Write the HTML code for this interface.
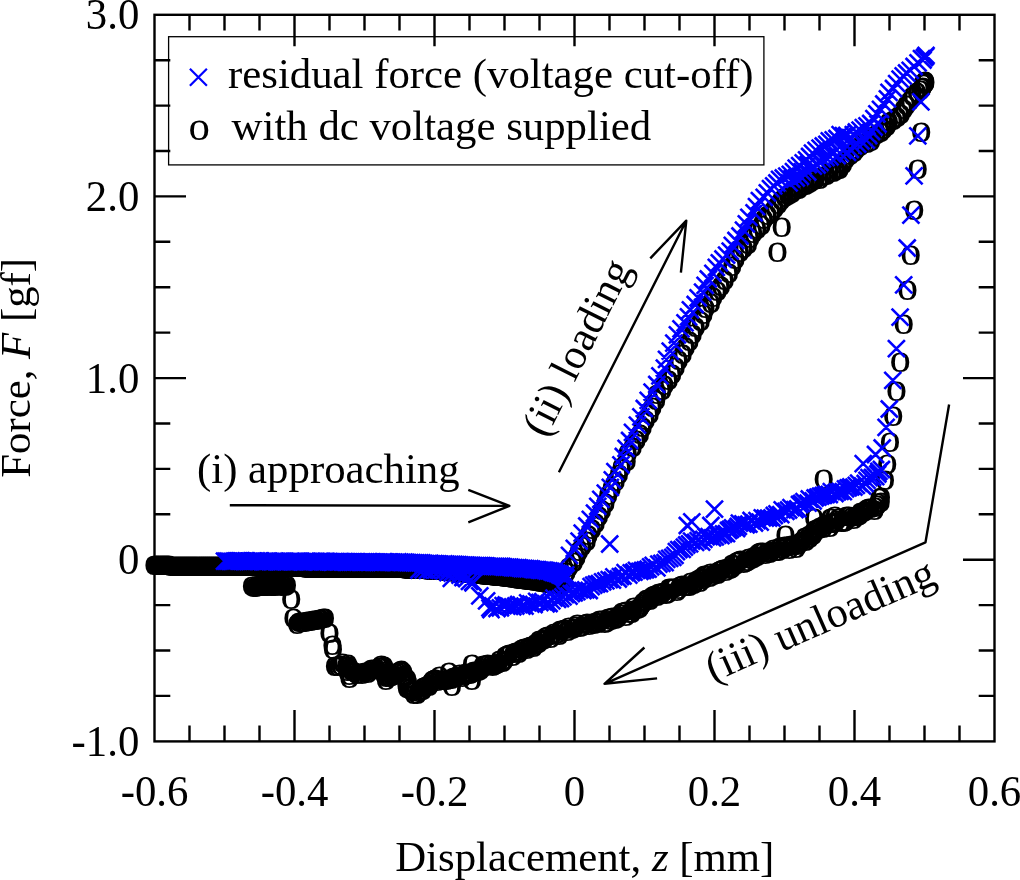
<!DOCTYPE html>
<html><head><meta charset="utf-8"><style>
html,body{margin:0;padding:0;background:#fff;}
svg{display:block;}
text{font-family:"Liberation Serif","Times New Roman",serif;font-size:42.8px;fill:#000;}
g.o text{text-anchor:middle;}
</style></head><body>
<svg width="1020" height="880" viewBox="0 0 1020 880">
<rect x="154.5" y="14.8" width="840.0" height="726.6" fill="none" stroke="#000" stroke-width="2.4"/>
<path d="M189.5 741.4v-15.8M189.5 14.8v15.8M224.5 741.4v-15.8M224.5 14.8v15.8M259.5 741.4v-15.8M259.5 14.8v15.8M294.5 741.4v-31.5M294.5 14.8v31.5M329.5 741.4v-15.8M329.5 14.8v15.8M364.5 741.4v-15.8M364.5 14.8v15.8M399.5 741.4v-15.8M399.5 14.8v15.8M434.5 741.4v-31.5M434.5 14.8v31.5M469.5 741.4v-15.8M469.5 14.8v15.8M504.5 741.4v-15.8M504.5 14.8v15.8M539.5 741.4v-15.8M539.5 14.8v15.8M574.5 741.4v-31.5M574.5 14.8v31.5M609.5 741.4v-15.8M609.5 14.8v15.8M644.5 741.4v-15.8M644.5 14.8v15.8M679.5 741.4v-15.8M679.5 14.8v15.8M714.5 741.4v-31.5M714.5 14.8v31.5M749.5 741.4v-15.8M749.5 14.8v15.8M784.5 741.4v-15.8M784.5 14.8v15.8M819.5 741.4v-15.8M819.5 14.8v15.8M854.5 741.4v-31.5M854.5 14.8v31.5M889.5 741.4v-15.8M889.5 14.8v15.8M924.5 741.4v-15.8M924.5 14.8v15.8M959.5 741.4v-15.8M959.5 14.8v15.8M154.5 695.9h15.8M994.5 695.9h-15.8M154.5 650.5h15.8M994.5 650.5h-15.8M154.5 605.1h15.8M994.5 605.1h-15.8M154.5 559.7h31.5M994.5 559.7h-31.5M154.5 514.3h15.8M994.5 514.3h-15.8M154.5 468.9h15.8M994.5 468.9h-15.8M154.5 423.5h15.8M994.5 423.5h-15.8M154.5 378.1h31.5M994.5 378.1h-31.5M154.5 332.6h15.8M994.5 332.6h-15.8M154.5 287.2h15.8M994.5 287.2h-15.8M154.5 241.8h15.8M994.5 241.8h-15.8M154.5 196.4h31.5M994.5 196.4h-31.5M154.5 151.0h15.8M994.5 151.0h-15.8M154.5 105.6h15.8M994.5 105.6h-15.8M154.5 60.2h15.8M994.5 60.2h-15.8" stroke="#000" stroke-width="2.4" fill="none"/>
<rect x="168.6" y="36.7" width="595.3" height="128.2" fill="none" stroke="#000" stroke-width="1.3"/>
<text transform="translate(154.5 806.3) scale(1 1.04)" text-anchor="middle">-0.6</text>
<text transform="translate(294.5 806.3) scale(1 1.04)" text-anchor="middle">-0.4</text>
<text transform="translate(434.5 806.3) scale(1 1.04)" text-anchor="middle">-0.2</text>
<text transform="translate(574.5 806.3) scale(1 1.04)" text-anchor="middle">0</text>
<text transform="translate(714.5 806.3) scale(1 1.04)" text-anchor="middle">0.2</text>
<text transform="translate(854.5 806.3) scale(1 1.04)" text-anchor="middle">0.4</text>
<text transform="translate(994.5 806.3) scale(1 1.04)" text-anchor="middle">0.6</text>
<text transform="translate(139.3 29.1) scale(1 1.04)" text-anchor="end">3.0</text>
<text transform="translate(139.3 210.8) scale(1 1.04)" text-anchor="end">2.0</text>
<text transform="translate(139.3 392.5) scale(1 1.04)" text-anchor="end">1.0</text>
<text transform="translate(139.3 574.1) scale(1 1.04)" text-anchor="end">0</text>
<text transform="translate(139.3 755.8) scale(1 1.04)" text-anchor="end">-1.0</text>
<text x="395.2" y="871.2">Displacement, <tspan font-style="italic">z</tspan> [mm]</text>
<text transform="translate(30 477.8) rotate(-90)">Force, <tspan font-style="italic">F</tspan> [gf]</text>
<text x="228" y="87.6">residual force (voltage cut-off)</text>
<text x="231.6" y="140.2">with dc voltage supplied</text>
<text x="197" y="483">(i) approaching</text>
<text transform="translate(546 439) rotate(-63.2)">(ii) loading</text>
<text transform="translate(713 682.4) rotate(-23.8)">(iii) unloading</text>
<path d="M229.8 505.2L509.4 505.9M468.3 489.8L509.4 505.9L468.3 522.4" fill="none" stroke="#000" stroke-width="2.4" stroke-linejoin="round"/>
<path d="M558.9 472.3L686.3 220.7M650.3 258.3L686.3 220.7L680.9 272.6" fill="none" stroke="#000" stroke-width="2.4" stroke-linejoin="round"/>
<path d="M949.1 404.5L925.5 542.3L604.5 683.8M644.4 647.5L604.5 683.8L657.1 678.4" fill="none" stroke="#000" stroke-width="2.4" stroke-linejoin="round"/>
<g class="o"><text x="154.5" y="575.4">o</text><text x="156.5" y="575.4">o</text><text x="158.5" y="575.4">o</text><text x="160.6" y="575.4">o</text><text x="162.6" y="575.4">o</text><text x="164.6" y="575.4">o</text><text x="166.6" y="575.4">o</text><text x="168.6" y="575.4">o</text><text x="170.6" y="575.5">o</text><text x="172.7" y="575.5">o</text><text x="174.7" y="575.5">o</text><text x="176.7" y="575.5">o</text><text x="178.7" y="575.5">o</text><text x="180.7" y="575.5">o</text><text x="182.7" y="575.5">o</text><text x="184.8" y="575.5">o</text><text x="186.8" y="575.5">o</text><text x="188.8" y="575.5">o</text><text x="190.8" y="575.5">o</text><text x="192.8" y="575.5">o</text><text x="194.8" y="575.5">o</text><text x="196.8" y="575.5">o</text><text x="198.9" y="575.5">o</text><text x="200.9" y="575.6">o</text><text x="202.9" y="575.6">o</text><text x="204.9" y="575.6">o</text><text x="206.9" y="575.6">o</text><text x="208.9" y="575.6">o</text><text x="211.0" y="575.6">o</text><text x="213.0" y="575.6">o</text><text x="215.0" y="575.6">o</text><text x="217.0" y="575.6">o</text><text x="219.0" y="575.7">o</text><text x="220.9" y="575.7">o</text><text x="222.9" y="575.8">o</text><text x="224.9" y="575.8">o</text><text x="226.9" y="575.9">o</text><text x="228.8" y="575.9">o</text><text x="230.8" y="575.9">o</text><text x="232.8" y="576.0">o</text><text x="234.8" y="576.0">o</text><text x="236.7" y="576.1">o</text><text x="238.7" y="576.1">o</text><text x="240.7" y="576.1">o</text><text x="242.7" y="576.2">o</text><text x="244.7" y="576.2">o</text><text x="246.6" y="576.3">o</text><text x="248.6" y="576.3">o</text><text x="250.6" y="576.4">o</text><text x="252.6" y="576.4">o</text><text x="254.5" y="576.4">o</text><text x="256.5" y="576.5">o</text><text x="258.5" y="576.5">o</text><text x="260.5" y="576.6">o</text><text x="262.4" y="576.6">o</text><text x="264.4" y="576.6">o</text><text x="266.4" y="576.7">o</text><text x="268.4" y="576.7">o</text><text x="270.3" y="576.8">o</text><text x="272.3" y="576.8">o</text><text x="274.3" y="576.9">o</text><text x="276.3" y="576.9">o</text><text x="278.3" y="576.9">o</text><text x="280.2" y="577.0">o</text><text x="282.2" y="577.0">o</text><text x="284.2" y="577.1">o</text><text x="286.2" y="577.1">o</text><text x="288.1" y="577.1">o</text><text x="290.1" y="577.2">o</text><text x="292.1" y="577.2">o</text><text x="294.1" y="577.3">o</text><text x="296.0" y="577.3">o</text><text x="298.0" y="577.4">o</text><text x="300.0" y="577.4">o</text><text x="302.0" y="577.4">o</text><text x="304.0" y="577.4">o</text><text x="306.0" y="577.5">o</text><text x="308.0" y="577.5">o</text><text x="310.0" y="577.5">o</text><text x="312.0" y="577.5">o</text><text x="314.0" y="577.5">o</text><text x="316.0" y="577.6">o</text><text x="318.0" y="577.6">o</text><text x="320.0" y="577.6">o</text><text x="322.0" y="577.6">o</text><text x="324.0" y="577.6">o</text><text x="326.0" y="577.6">o</text><text x="328.0" y="577.7">o</text><text x="330.0" y="577.7">o</text><text x="332.0" y="577.7">o</text><text x="334.0" y="577.7">o</text><text x="336.0" y="577.7">o</text><text x="338.0" y="577.8">o</text><text x="340.0" y="577.8">o</text><text x="342.0" y="577.8">o</text><text x="344.0" y="577.8">o</text><text x="346.0" y="577.8">o</text><text x="348.0" y="577.9">o</text><text x="350.0" y="577.9">o</text><text x="352.0" y="577.9">o</text><text x="354.0" y="577.9">o</text><text x="356.0" y="577.9">o</text><text x="358.0" y="578.0">o</text><text x="360.0" y="578.0">o</text><text x="362.0" y="578.0">o</text><text x="364.0" y="578.0">o</text><text x="366.0" y="578.0">o</text><text x="368.0" y="578.1">o</text><text x="370.0" y="578.1">o</text><text x="372.0" y="578.1">o</text><text x="374.0" y="578.1">o</text><text x="376.0" y="578.1">o</text><text x="378.0" y="578.1">o</text><text x="380.0" y="578.2">o</text><text x="382.0" y="578.2">o</text><text x="384.0" y="578.2">o</text><text x="386.0" y="578.2">o</text><text x="388.0" y="578.2">o</text><text x="390.0" y="578.3">o</text><text x="392.0" y="578.3">o</text><text x="394.0" y="578.3">o</text><text x="396.0" y="578.3">o</text><text x="398.0" y="578.3">o</text><text x="400.0" y="578.4">o</text><text x="402.0" y="578.4">o</text><text x="404.0" y="578.4">o</text><text x="406.0" y="578.5">o</text><text x="408.0" y="578.6">o</text><text x="410.0" y="578.7">o</text><text x="412.0" y="578.8">o</text><text x="414.0" y="578.9">o</text><text x="416.0" y="579.0">o</text><text x="418.0" y="579.1">o</text><text x="420.0" y="579.2">o</text><text x="422.0" y="579.2">o</text><text x="424.0" y="579.3">o</text><text x="426.0" y="579.4">o</text><text x="428.0" y="579.5">o</text><text x="430.0" y="579.6">o</text><text x="432.0" y="579.7">o</text><text x="434.0" y="579.8">o</text><text x="436.0" y="579.9">o</text><text x="438.0" y="580.0">o</text><text x="440.0" y="580.1">o</text><text x="442.0" y="580.3">o</text><text x="444.0" y="580.5">o</text><text x="446.0" y="580.7">o</text><text x="448.0" y="580.9">o</text><text x="450.0" y="581.1">o</text><text x="452.0" y="581.3">o</text><text x="454.0" y="581.5">o</text><text x="456.0" y="581.7">o</text><text x="458.0" y="581.9">o</text><text x="460.0" y="582.1">o</text><text x="462.0" y="582.3">o</text><text x="464.0" y="582.5">o</text><text x="466.0" y="582.7">o</text><text x="468.0" y="582.9">o</text><text x="470.0" y="583.1">o</text><text x="472.0" y="583.3">o</text><text x="474.0" y="583.5">o</text><text x="476.0" y="583.7">o</text><text x="478.0" y="583.9">o</text><text x="480.0" y="584.1">o</text><text x="482.0" y="584.3">o</text><text x="484.0" y="584.5">o</text><text x="486.0" y="584.7">o</text><text x="488.0" y="584.9">o</text><text x="490.0" y="585.1">o</text><text x="492.0" y="585.3">o</text><text x="494.0" y="585.5">o</text><text x="496.0" y="585.7">o</text><text x="498.0" y="585.9">o</text><text x="500.0" y="586.1">o</text><text x="502.0" y="586.4">o</text><text x="504.0" y="586.6">o</text><text x="506.0" y="586.9">o</text><text x="508.0" y="587.2">o</text><text x="510.0" y="587.4">o</text><text x="512.0" y="587.7">o</text><text x="514.0" y="588.0">o</text><text x="516.0" y="588.2">o</text><text x="518.0" y="588.5">o</text><text x="520.0" y="588.8">o</text><text x="522.0" y="589.0">o</text><text x="524.0" y="589.3">o</text><text x="526.0" y="589.6">o</text><text x="528.0" y="589.8">o</text><text x="530.0" y="590.1">o</text><text x="532.0" y="590.4">o</text><text x="534.0" y="590.7">o</text><text x="536.0" y="591.0">o</text><text x="538.0" y="591.3">o</text><text x="540.0" y="591.6">o</text><text x="542.0" y="591.9">o</text><text x="544.0" y="592.2">o</text><text x="546.0" y="592.5">o</text><text x="548.0" y="592.8">o</text><text x="550.0" y="593.1">o</text><text x="552.0" y="593.3">o</text><text x="554.0" y="593.4">o</text><text x="556.0" y="593.6">o</text><text x="558.0" y="593.8">o</text><text x="560.0" y="593.9">o</text><text x="562.0" y="594.1">o</text><text x="252.0" y="596.2">o</text><text x="254.0" y="596.9">o</text><text x="255.9" y="596.7">o</text><text x="257.8" y="596.1">o</text><text x="259.8" y="596.3">o</text><text x="261.7" y="596.1">o</text><text x="263.7" y="596.3">o</text><text x="265.6" y="596.3">o</text><text x="267.5" y="595.5">o</text><text x="269.5" y="595.4">o</text><text x="271.5" y="596.1">o</text><text x="273.4" y="595.6">o</text><text x="275.3" y="595.9">o</text><text x="277.3" y="595.0">o</text><text x="279.2" y="595.4">o</text><text x="281.2" y="595.6">o</text><text x="283.1" y="595.0">o</text><text x="285.1" y="595.6">o</text><text x="287.0" y="595.1">o</text><text x="291.2" y="608.9">o</text><text x="293.5" y="627.7">o</text><text x="297.1" y="633.5">o</text><text x="298.9" y="632.3">o</text><text x="300.9" y="631.9">o</text><text x="303.0" y="632.1">o</text><text x="305.1" y="632.1">o</text><text x="307.0" y="631.2">o</text><text x="309.0" y="630.7">o</text><text x="311.0" y="630.5">o</text><text x="312.9" y="629.8">o</text><text x="315.0" y="629.6">o</text><text x="317.0" y="629.5">o</text><text x="319.0" y="629.2">o</text><text x="321.0" y="628.6">o</text><text x="323.0" y="628.2">o</text><text x="325.0" y="628.1">o</text><text x="329.4" y="642.5">o</text><text x="332.4" y="654.8">o</text><text x="333.0" y="658.9">o</text><text x="335.0" y="676.0">o</text><text x="337.8" y="676.2">o</text><text x="340.2" y="674.9">o</text><text x="342.5" y="673.2">o</text><text x="346.0" y="675.6">o</text><text x="348.0" y="673.6">o</text><text x="347.9" y="676.0">o</text><text x="350.0" y="678.2">o</text><text x="347.1" y="681.0">o</text><text x="349.5" y="684.5">o</text><text x="351.8" y="681.4">o</text><text x="354.4" y="682.1">o</text><text x="357.0" y="683.5">o</text><text x="359.5" y="683.3">o</text><text x="362.1" y="684.0">o</text><text x="364.5" y="681.8">o</text><text x="367.6" y="683.1">o</text><text x="369.7" y="681.3">o</text><text x="371.4" y="678.8">o</text><text x="374.3" y="678.7">o</text><text x="377.2" y="678.5">o</text><text x="379.5" y="677.2">o</text><text x="381.2" y="674.8">o</text><text x="381.8" y="677.1">o</text><text x="384.8" y="678.3">o</text><text x="385.0" y="680.8">o</text><text x="384.0" y="683.9">o</text><text x="386.3" y="685.4">o</text><text x="386.4" y="686.5">o</text><text x="389.3" y="686.7">o</text><text x="391.8" y="686.1">o</text><text x="393.9" y="684.8">o</text><text x="395.6" y="682.6">o</text><text x="397.9" y="681.6">o</text><text x="400.2" y="680.7">o</text><text x="401.3" y="679.8">o</text><text x="403.1" y="682.1">o</text><text x="404.3" y="684.5">o</text><text x="404.7" y="687.1">o</text><text x="407.3" y="689.2">o</text><text x="408.0" y="691.7">o</text><text x="406.4" y="695.3">o</text><text x="406.9" y="697.8">o</text><text x="409.5" y="698.7">o</text><text x="411.5" y="700.1">o</text><text x="413.7" y="701.4">o</text><text x="414.0" y="704.1">o</text><text x="417.1" y="704.4">o</text><text x="418.6" y="702.3">o</text><text x="420.1" y="700.2">o</text><text x="422.8" y="700.0">o</text><text x="423.4" y="696.5">o</text><text x="426.0" y="696.1">o</text><text x="428.9" y="696.1">o</text><text x="429.8" y="693.5">o</text><text x="431.3" y="691.7">o</text><text x="432.6" y="689.6">o</text><text x="435.0" y="688.9">o</text><text x="349.4" y="687.7">o</text><text x="384.0" y="676.1">o</text><text x="386.0" y="690.1">o</text><text x="435.0" y="689.1">o</text><text x="437.5" y="691.0">o</text><text x="439.5" y="686.2">o</text><text x="442.1" y="689.9">o</text><text x="444.4" y="690.0">o</text><text x="446.8" y="690.2">o</text><text x="449.2" y="689.3">o</text><text x="451.5" y="689.2">o</text><text x="453.4" y="687.4">o</text><text x="455.7" y="687.2">o</text><text x="457.7" y="686.1">o</text><text x="459.5" y="683.9">o</text><text x="462.4" y="687.4">o</text><text x="464.1" y="685.4">o</text><text x="465.6" y="683.1">o</text><text x="468.0" y="684.1">o</text><text x="470.0" y="683.5">o</text><text x="471.7" y="682.5">o</text><text x="473.7" y="681.4">o</text><text x="476.1" y="681.3">o</text><text x="478.3" y="680.7">o</text><text x="480.3" y="679.6">o</text><text x="481.9" y="677.9">o</text><text x="482.9" y="675.0">o</text><text x="485.4" y="674.9">o</text><text x="487.5" y="673.6">o</text><text x="490.1" y="674.8">o</text><text x="492.6" y="675.5">o</text><text x="494.5" y="674.5">o</text><text x="496.5" y="673.8">o</text><text x="498.5" y="673.3">o</text><text x="499.5" y="670.0">o</text><text x="502.8" y="671.6">o</text><text x="504.4" y="669.9">o</text><text x="505.1" y="666.2">o</text><text x="506.9" y="664.9">o</text><text x="509.0" y="663.9">o</text><text x="512.6" y="666.4">o</text><text x="513.7" y="663.1">o</text><text x="515.5" y="661.6">o</text><text x="518.6" y="663.1">o</text><text x="520.2" y="660.9">o</text><text x="521.8" y="658.7">o</text><text x="524.0" y="658.2">o</text><text x="526.9" y="659.0">o</text><text x="528.2" y="656.5">o</text><text x="530.4" y="656.1">o</text><text x="533.4" y="656.9">o</text><text x="534.7" y="654.7">o</text><text x="536.3" y="653.0">o</text><text x="538.5" y="652.6">o</text><text x="539.3" y="649.5">o</text><text x="542.1" y="650.0">o</text><text x="544.1" y="649.1">o</text><text x="545.4" y="647.0">o</text><text x="547.1" y="645.5">o</text><text x="550.6" y="648.0">o</text><text x="552.2" y="645.4">o</text><text x="553.9" y="643.3">o</text><text x="556.7" y="644.4">o</text><text x="559.2" y="644.7">o</text><text x="560.1" y="640.2">o</text><text x="562.0" y="639.5">o</text><text x="564.4" y="639.1">o</text><text x="567.7" y="640.8">o</text><text x="568.7" y="637.3">o</text><text x="571.9" y="638.8">o</text><text x="574.0" y="637.8">o</text><text x="575.8" y="636.2">o</text><text x="577.3" y="633.8">o</text><text x="580.1" y="636.5">o</text><text x="582.4" y="635.5">o</text><text x="584.7" y="634.1">o</text><text x="587.0" y="632.6">o</text><text x="589.3" y="634.6">o</text><text x="591.7" y="633.3">o</text><text x="594.1" y="634.2">o</text><text x="595.8" y="632.3">o</text><text x="598.3" y="633.1">o</text><text x="599.5" y="629.8">o</text><text x="602.0" y="630.3">o</text><text x="605.0" y="632.8">o</text><text x="607.0" y="631.7">o</text><text x="608.2" y="628.3">o</text><text x="611.1" y="630.3">o</text><text x="612.3" y="627.1">o</text><text x="615.3" y="629.4">o</text><text x="617.1" y="627.9">o</text><text x="618.7" y="625.6">o</text><text x="620.5" y="624.2">o</text><text x="622.2" y="622.4">o</text><text x="626.0" y="625.7">o</text><text x="625.7" y="621.0">o</text><text x="629.6" y="623.2">o</text><text x="631.8" y="622.7">o</text><text x="632.7" y="619.9">o</text><text x="633.6" y="617.1">o</text><text x="637.2" y="619.0">o</text><text x="639.4" y="618.3">o</text><text x="640.6" y="616.0">o</text><text x="642.0" y="614.1">o</text><text x="643.5" y="612.4">o</text><text x="645.3" y="611.1">o</text><text x="646.8" y="609.4">o</text><text x="649.9" y="610.3">o</text><text x="651.2" y="608.2">o</text><text x="652.5" y="606.0">o</text><text x="654.1" y="604.5">o</text><text x="657.3" y="605.9">o</text><text x="658.8" y="603.4">o</text><text x="661.2" y="603.6">o</text><text x="663.1" y="602.0">o</text><text x="666.1" y="603.8">o</text><text x="668.3" y="603.2">o</text><text x="668.9" y="598.2">o</text><text x="671.3" y="598.3">o</text><text x="673.6" y="598.2">o</text><text x="676.9" y="600.5">o</text><text x="678.7" y="598.8">o</text><text x="680.0" y="595.9">o</text><text x="681.9" y="594.6">o</text><text x="684.8" y="596.0">o</text><text x="687.2" y="596.0">o</text><text x="689.5" y="595.7">o</text><text x="690.6" y="592.1">o</text><text x="693.7" y="593.9">o</text><text x="695.4" y="592.1">o</text><text x="697.0" y="590.4">o</text><text x="699.9" y="591.8">o</text><text x="700.5" y="587.5">o</text><text x="703.4" y="589.0">o</text><text x="704.2" y="585.2">o</text><text x="706.4" y="584.7">o</text><text x="709.8" y="587.3">o</text><text x="710.4" y="583.3">o</text><text x="713.5" y="585.0">o</text><text x="715.2" y="583.4">o</text><text x="717.7" y="583.7">o</text><text x="718.7" y="580.7">o</text><text x="720.7" y="579.7">o</text><text x="722.6" y="578.6">o</text><text x="725.7" y="580.5">o</text><text x="727.2" y="578.4">o</text><text x="729.9" y="579.2">o</text><text x="731.7" y="578.1">o</text><text x="732.3" y="573.8">o</text><text x="735.1" y="574.8">o</text><text x="736.2" y="571.9">o</text><text x="738.1" y="570.8">o</text><text x="740.2" y="570.1">o</text><text x="743.7" y="573.0">o</text><text x="745.6" y="571.8">o</text><text x="747.6" y="571.1">o</text><text x="748.7" y="568.0">o</text><text x="751.2" y="568.5">o</text><text x="753.5" y="568.4">o</text><text x="754.8" y="565.7">o</text><text x="757.1" y="565.8">o</text><text x="758.5" y="563.3">o</text><text x="760.2" y="561.8">o</text><text x="762.6" y="561.9">o</text><text x="765.4" y="564.0">o</text><text x="767.3" y="562.0">o</text><text x="769.8" y="563.3">o</text><text x="771.5" y="560.6">o</text><text x="773.5" y="559.3">o</text><text x="776.2" y="561.3">o</text><text x="778.4" y="561.1">o</text><text x="779.8" y="556.6">o</text><text x="782.7" y="559.4">o</text><text x="784.3" y="556.2">o</text><text x="786.5" y="555.8">o</text><text x="789.4" y="559.2">o</text><text x="790.8" y="554.6">o</text><text x="793.2" y="555.1">o</text><text x="796.1" y="558.4">o</text><text x="797.7" y="555.2">o</text><text x="798.6" y="553.8">o</text><text x="800.4" y="552.3">o</text><text x="802.3" y="550.9">o</text><text x="805.6" y="551.1">o</text><text x="804.9" y="547.2">o</text><text x="809.4" y="548.4">o</text><text x="809.1" y="544.9">o</text><text x="812.8" y="545.4">o</text><text x="813.5" y="544.0">o</text><text x="814.3" y="540.2">o</text><text x="816.2" y="539.1">o</text><text x="818.7" y="539.2">o</text><text x="820.0" y="536.6">o</text><text x="823.1" y="538.2">o</text><text x="823.9" y="534.5">o</text><text x="825.9" y="533.5">o</text><text x="829.9" y="537.0">o</text><text x="830.5" y="532.9">o</text><text x="833.1" y="533.4">o</text><text x="834.9" y="531.8">o</text><text x="836.7" y="530.2">o</text><text x="838.4" y="528.4">o</text><text x="841.6" y="531.9">o</text><text x="843.7" y="531.5">o</text><text x="845.7" y="530.9">o</text><text x="846.4" y="526.2">o</text><text x="848.6" y="526.1">o</text><text x="851.2" y="527.4">o</text><text x="853.7" y="528.5">o</text><text x="855.1" y="525.8">o</text><text x="857.4" y="525.6">o</text><text x="859.4" y="524.6">o</text><text x="860.7" y="521.9">o</text><text x="863.3" y="522.4">o</text><text x="864.9" y="520.5">o</text><text x="866.8" y="519.3">o</text><text x="868.5" y="517.7">o</text><text x="871.0" y="517.8">o</text><text x="874.4" y="520.2">o</text><text x="875.3" y="517.0">o</text><text x="877.3" y="515.3">o</text><text x="878.3" y="513.2">o</text><text x="880.8" y="511.8">o</text><text x="879.4" y="508.4">o</text><text x="881.0" y="506.5">o</text><text x="449.0" y="682.1">o</text><text x="452.0" y="696.1">o</text><text x="472.0" y="674.1">o</text><text x="472.0" y="690.1">o</text><text x="823.7" y="488.8">o</text><text x="814.1" y="528.3">o</text><text x="785.5" y="544.7">o</text><text x="834.6" y="525.6">o</text><text x="830.5" y="528.1">o</text><text x="925.5" y="92.1">o</text><text x="921.2" y="142.3">o</text><text x="917.8" y="178.8">o</text><text x="914.1" y="220.0">o</text><text x="910.6" y="264.5">o</text><text x="907.4" y="299.5">o</text><text x="903.7" y="334.1">o</text><text x="900.1" y="372.2">o</text><text x="896.4" y="400.8">o</text><text x="893.3" y="425.5">o</text><text x="890.0" y="451.8">o</text><text x="887.1" y="473.8">o</text><text x="885.0" y="490.1">o</text><text x="560.8" y="596.0">o</text><text x="566.5" y="582.4">o</text><text x="568.9" y="576.6">o</text><text x="573.7" y="572.4">o</text><text x="576.4" y="566.9">o</text><text x="579.0" y="561.2">o</text><text x="582.3" y="556.0">o</text><text x="586.7" y="551.4">o</text><text x="588.5" y="544.5">o</text><text x="592.0" y="538.5">o</text><text x="595.6" y="532.5">o</text><text x="598.9" y="526.4">o</text><text x="602.0" y="520.1">o</text><text x="605.5" y="512.7">o</text><text x="608.3" y="505.0">o</text><text x="611.7" y="497.6">o</text><text x="615.8" y="490.5">o</text><text x="618.9" y="483.6">o</text><text x="621.7" y="476.6">o</text><text x="626.6" y="470.7">o</text><text x="627.8" y="462.8">o</text><text x="632.6" y="456.8">o</text><text x="636.4" y="450.3">o</text><text x="639.9" y="443.7">o</text><text x="642.7" y="436.8">o</text><text x="645.8" y="430.0">o</text><text x="649.7" y="423.6">o</text><text x="652.5" y="416.7">o</text><text x="656.3" y="410.3">o</text><text x="657.3" y="404.1">o</text><text x="662.2" y="400.2">o</text><text x="664.5" y="394.8">o</text><text x="668.6" y="390.4">o</text><text x="672.1" y="383.7">o</text><text x="675.8" y="377.0">o</text><text x="678.7" y="370.0">o</text><text x="682.7" y="363.7">o</text><text x="685.6" y="356.8">o</text><text x="689.4" y="350.5">o</text><text x="692.6" y="343.8">o</text><text x="695.6" y="337.0">o</text><text x="700.8" y="331.3">o</text><text x="703.4" y="324.4">o</text><text x="705.5" y="317.7">o</text><text x="710.9" y="313.1">o</text><text x="713.2" y="306.6">o</text><text x="717.5" y="301.3">o</text><text x="721.0" y="295.5">o</text><text x="724.7" y="289.9">o</text><text x="728.9" y="283.2">o</text><text x="732.3" y="276.0">o</text><text x="735.4" y="268.6">o</text><text x="740.0" y="262.1">o</text><text x="743.7" y="257.6">o</text><text x="748.0" y="253.6">o</text><text x="750.3" y="248.0">o</text><text x="753.3" y="243.1">o</text><text x="757.3" y="238.8">o</text><text x="761.4" y="234.6">o</text><text x="764.0" y="229.4">o</text><text x="767.6" y="224.8">o</text><text x="771.7" y="221.8">o</text><text x="774.8" y="217.9">o</text><text x="778.3" y="214.4">o</text><text x="781.3" y="210.4">o</text><text x="784.7" y="206.6">o</text><text x="788.3" y="204.7">o</text><text x="791.7" y="202.6">o</text><text x="795.1" y="200.3">o</text><text x="798.8" y="198.6">o</text><text x="802.2" y="196.4">o</text><text x="805.7" y="194.8">o</text><text x="809.1" y="193.2">o</text><text x="812.2" y="190.7">o</text><text x="815.7" y="188.9">o</text><text x="819.7" y="188.5">o</text><text x="823.0" y="186.4">o</text><text x="826.5" y="184.8">o</text><text x="829.7" y="182.4">o</text><text x="833.3" y="181.5">o</text><text x="836.5" y="179.8">o</text><text x="839.5" y="178.5">o</text><text x="843.0" y="173.8">o</text><text x="845.8" y="168.7">o</text><text x="850.0" y="164.5">o</text><text x="853.9" y="162.3">o</text><text x="856.3" y="158.5">o</text><text x="860.0" y="156.2">o</text><text x="862.9" y="153.4">o</text><text x="866.9" y="152.5">o</text><text x="870.9" y="151.1">o</text><text x="872.8" y="146.5">o</text><text x="876.6" y="144.0">o</text><text x="880.6" y="141.9">o</text><text x="883.5" y="138.6">o</text><text x="886.7" y="135.8">o</text><text x="889.0" y="132.1">o</text><text x="893.3" y="129.7">o</text><text x="897.1" y="126.9">o</text><text x="900.8" y="123.7">o</text><text x="903.7" y="119.4">o</text><text x="906.4" y="114.8">o</text><text x="909.6" y="110.8">o</text><text x="912.8" y="105.8">o</text><text x="916.9" y="101.6">o</text><text x="921.9" y="98.1">o</text><text x="925.0" y="93.1">o</text><text x="777.5" y="262.1">o</text><text x="781.8" y="236.6">o</text><text x="924.0" y="94.1">o</text><text x="922.5" y="97.1">o</text><text x="925.0" y="90.6">o</text><text x="923.0" y="92.6">o</text><text x="920.5" y="100.1">o</text></g>
<path d="M216.0 552.6l17.0 17.0m0 -17.0l-17.0 17.0M218.0 552.6l17.0 17.0m0 -17.0l-17.0 17.0M220.0 552.7l17.0 17.0m0 -17.0l-17.0 17.0M222.0 552.8l17.0 17.0m0 -17.0l-17.0 17.0M224.0 552.8l17.0 17.0m0 -17.0l-17.0 17.0M226.0 552.6l17.0 17.0m0 -17.0l-17.0 17.0M228.0 552.4l17.0 17.0m0 -17.0l-17.0 17.0M230.0 552.5l17.0 17.0m0 -17.0l-17.0 17.0M232.0 552.4l17.0 17.0m0 -17.0l-17.0 17.0M233.9 552.7l17.0 17.0m0 -17.0l-17.0 17.0M235.9 552.8l17.0 17.0m0 -17.0l-17.0 17.0M237.9 552.4l17.0 17.0m0 -17.0l-17.0 17.0M239.9 552.8l17.0 17.0m0 -17.0l-17.0 17.0M241.9 552.8l17.0 17.0m0 -17.0l-17.0 17.0M243.9 552.6l17.0 17.0m0 -17.0l-17.0 17.0M245.9 552.7l17.0 17.0m0 -17.0l-17.0 17.0M247.9 552.5l17.0 17.0m0 -17.0l-17.0 17.0M249.9 552.9l17.0 17.0m0 -17.0l-17.0 17.0M251.9 552.5l17.0 17.0m0 -17.0l-17.0 17.0M253.9 553.1l17.0 17.0m0 -17.0l-17.0 17.0M255.9 553.0l17.0 17.0m0 -17.0l-17.0 17.0M257.9 552.9l17.0 17.0m0 -17.0l-17.0 17.0M259.9 552.7l17.0 17.0m0 -17.0l-17.0 17.0M261.9 553.1l17.0 17.0m0 -17.0l-17.0 17.0M263.9 553.1l17.0 17.0m0 -17.0l-17.0 17.0M265.9 552.6l17.0 17.0m0 -17.0l-17.0 17.0M267.9 553.0l17.0 17.0m0 -17.0l-17.0 17.0M269.8 553.1l17.0 17.0m0 -17.0l-17.0 17.0M271.8 553.0l17.0 17.0m0 -17.0l-17.0 17.0M273.8 553.0l17.0 17.0m0 -17.0l-17.0 17.0M275.8 552.9l17.0 17.0m0 -17.0l-17.0 17.0M277.8 553.2l17.0 17.0m0 -17.0l-17.0 17.0M279.8 553.2l17.0 17.0m0 -17.0l-17.0 17.0M281.8 552.9l17.0 17.0m0 -17.0l-17.0 17.0M283.8 553.2l17.0 17.0m0 -17.0l-17.0 17.0M285.8 553.0l17.0 17.0m0 -17.0l-17.0 17.0M287.8 552.8l17.0 17.0m0 -17.0l-17.0 17.0M289.8 552.9l17.0 17.0m0 -17.0l-17.0 17.0M291.8 552.8l17.0 17.0m0 -17.0l-17.0 17.0M293.8 553.3l17.0 17.0m0 -17.0l-17.0 17.0M295.8 553.4l17.0 17.0m0 -17.0l-17.0 17.0M297.8 552.9l17.0 17.0m0 -17.0l-17.0 17.0M299.8 553.2l17.0 17.0m0 -17.0l-17.0 17.0M301.8 553.1l17.0 17.0m0 -17.0l-17.0 17.0M303.8 552.9l17.0 17.0m0 -17.0l-17.0 17.0M305.8 553.0l17.0 17.0m0 -17.0l-17.0 17.0M307.7 553.0l17.0 17.0m0 -17.0l-17.0 17.0M309.7 553.3l17.0 17.0m0 -17.0l-17.0 17.0M311.7 552.9l17.0 17.0m0 -17.0l-17.0 17.0M313.7 553.0l17.0 17.0m0 -17.0l-17.0 17.0M315.7 553.2l17.0 17.0m0 -17.0l-17.0 17.0M317.7 552.9l17.0 17.0m0 -17.0l-17.0 17.0M319.7 553.3l17.0 17.0m0 -17.0l-17.0 17.0M321.7 553.3l17.0 17.0m0 -17.0l-17.0 17.0M323.7 553.5l17.0 17.0m0 -17.0l-17.0 17.0M325.7 553.1l17.0 17.0m0 -17.0l-17.0 17.0M327.7 553.2l17.0 17.0m0 -17.0l-17.0 17.0M329.7 553.3l17.0 17.0m0 -17.0l-17.0 17.0M331.7 553.2l17.0 17.0m0 -17.0l-17.0 17.0M333.7 553.4l17.0 17.0m0 -17.0l-17.0 17.0M335.7 553.2l17.0 17.0m0 -17.0l-17.0 17.0M337.7 553.5l17.0 17.0m0 -17.0l-17.0 17.0M339.7 553.6l17.0 17.0m0 -17.0l-17.0 17.0M341.6 553.6l17.0 17.0m0 -17.0l-17.0 17.0M343.6 553.7l17.0 17.0m0 -17.0l-17.0 17.0M345.6 553.5l17.0 17.0m0 -17.0l-17.0 17.0M347.6 553.4l17.0 17.0m0 -17.0l-17.0 17.0M349.6 553.7l17.0 17.0m0 -17.0l-17.0 17.0M351.6 553.6l17.0 17.0m0 -17.0l-17.0 17.0M353.6 553.5l17.0 17.0m0 -17.0l-17.0 17.0M355.6 553.4l17.0 17.0m0 -17.0l-17.0 17.0M357.6 553.4l17.0 17.0m0 -17.0l-17.0 17.0M359.6 553.3l17.0 17.0m0 -17.0l-17.0 17.0M361.6 553.7l17.0 17.0m0 -17.0l-17.0 17.0M363.6 553.3l17.0 17.0m0 -17.0l-17.0 17.0M365.6 553.7l17.0 17.0m0 -17.0l-17.0 17.0M367.6 553.6l17.0 17.0m0 -17.0l-17.0 17.0M369.6 553.9l17.0 17.0m0 -17.0l-17.0 17.0M371.6 553.8l17.0 17.0m0 -17.0l-17.0 17.0M373.6 553.9l17.0 17.0m0 -17.0l-17.0 17.0M375.6 553.4l17.0 17.0m0 -17.0l-17.0 17.0M377.5 553.7l17.0 17.0m0 -17.0l-17.0 17.0M379.5 553.7l17.0 17.0m0 -17.0l-17.0 17.0M381.5 553.6l17.0 17.0m0 -17.0l-17.0 17.0M383.5 553.7l17.0 17.0m0 -17.0l-17.0 17.0M385.5 553.6l17.0 17.0m0 -17.0l-17.0 17.0M387.5 553.8l17.0 17.0m0 -17.0l-17.0 17.0M389.5 553.5l17.0 17.0m0 -17.0l-17.0 17.0M391.5 553.7l17.0 17.0m0 -17.0l-17.0 17.0M393.5 553.8l17.0 17.0m0 -17.0l-17.0 17.0M395.5 553.7l17.0 17.0m0 -17.0l-17.0 17.0M397.5 553.8l17.0 17.0m0 -17.0l-17.0 17.0M399.5 554.2l17.0 17.0m0 -17.0l-17.0 17.0M401.5 554.2l17.0 17.0m0 -17.0l-17.0 17.0M403.5 554.2l17.0 17.0m0 -17.0l-17.0 17.0M405.5 554.4l17.0 17.0m0 -17.0l-17.0 17.0M407.5 554.3l17.0 17.0m0 -17.0l-17.0 17.0M409.5 554.3l17.0 17.0m0 -17.0l-17.0 17.0M411.5 554.3l17.0 17.0m0 -17.0l-17.0 17.0M413.5 554.5l17.0 17.0m0 -17.0l-17.0 17.0M415.5 554.8l17.0 17.0m0 -17.0l-17.0 17.0M417.5 555.1l17.0 17.0m0 -17.0l-17.0 17.0M419.5 555.1l17.0 17.0m0 -17.0l-17.0 17.0M421.5 555.0l17.0 17.0m0 -17.0l-17.0 17.0M423.5 555.4l17.0 17.0m0 -17.0l-17.0 17.0M425.5 555.2l17.0 17.0m0 -17.0l-17.0 17.0M427.5 555.5l17.0 17.0m0 -17.0l-17.0 17.0M429.5 555.4l17.0 17.0m0 -17.0l-17.0 17.0M431.5 555.6l17.0 17.0m0 -17.0l-17.0 17.0M433.5 555.9l17.0 17.0m0 -17.0l-17.0 17.0M435.5 555.5l17.0 17.0m0 -17.0l-17.0 17.0M437.5 555.6l17.0 17.0m0 -17.0l-17.0 17.0M439.5 555.9l17.0 17.0m0 -17.0l-17.0 17.0M441.5 555.9l17.0 17.0m0 -17.0l-17.0 17.0M443.5 555.9l17.0 17.0m0 -17.0l-17.0 17.0M445.5 555.8l17.0 17.0m0 -17.0l-17.0 17.0M447.5 556.1l17.0 17.0m0 -17.0l-17.0 17.0M449.5 556.2l17.0 17.0m0 -17.0l-17.0 17.0M451.5 556.3l17.0 17.0m0 -17.0l-17.0 17.0M453.5 556.6l17.0 17.0m0 -17.0l-17.0 17.0M455.5 556.6l17.0 17.0m0 -17.0l-17.0 17.0M457.5 556.7l17.0 17.0m0 -17.0l-17.0 17.0M459.5 556.9l17.0 17.0m0 -17.0l-17.0 17.0M461.5 556.9l17.0 17.0m0 -17.0l-17.0 17.0M463.5 556.8l17.0 17.0m0 -17.0l-17.0 17.0M465.5 557.1l17.0 17.0m0 -17.0l-17.0 17.0M467.5 557.1l17.0 17.0m0 -17.0l-17.0 17.0M469.5 557.2l17.0 17.0m0 -17.0l-17.0 17.0M471.5 557.2l17.0 17.0m0 -17.0l-17.0 17.0M473.5 557.2l17.0 17.0m0 -17.0l-17.0 17.0M475.5 557.4l17.0 17.0m0 -17.0l-17.0 17.0M477.5 557.5l17.0 17.0m0 -17.0l-17.0 17.0M479.5 557.8l17.0 17.0m0 -17.0l-17.0 17.0M481.5 557.8l17.0 17.0m0 -17.0l-17.0 17.0M483.5 557.9l17.0 17.0m0 -17.0l-17.0 17.0M485.5 557.9l17.0 17.0m0 -17.0l-17.0 17.0M487.5 558.0l17.0 17.0m0 -17.0l-17.0 17.0M489.5 558.0l17.0 17.0m0 -17.0l-17.0 17.0M491.5 557.9l17.0 17.0m0 -17.0l-17.0 17.0M493.5 558.0l17.0 17.0m0 -17.0l-17.0 17.0M495.5 558.5l17.0 17.0m0 -17.0l-17.0 17.0M497.5 558.7l17.0 17.0m0 -17.0l-17.0 17.0M499.5 558.7l17.0 17.0m0 -17.0l-17.0 17.0M501.5 558.6l17.0 17.0m0 -17.0l-17.0 17.0M503.5 559.2l17.0 17.0m0 -17.0l-17.0 17.0M505.5 559.2l17.0 17.0m0 -17.0l-17.0 17.0M507.5 559.3l17.0 17.0m0 -17.0l-17.0 17.0M509.5 559.2l17.0 17.0m0 -17.0l-17.0 17.0M511.5 559.7l17.0 17.0m0 -17.0l-17.0 17.0M513.5 560.0l17.0 17.0m0 -17.0l-17.0 17.0M515.5 560.0l17.0 17.0m0 -17.0l-17.0 17.0M517.5 560.1l17.0 17.0m0 -17.0l-17.0 17.0M519.5 560.4l17.0 17.0m0 -17.0l-17.0 17.0M521.5 560.2l17.0 17.0m0 -17.0l-17.0 17.0M523.4 560.7l17.0 17.0m0 -17.0l-17.0 17.0M525.3 561.2l17.0 17.0m0 -17.0l-17.0 17.0M527.2 561.2l17.0 17.0m0 -17.0l-17.0 17.0M529.1 561.2l17.0 17.0m0 -17.0l-17.0 17.0M531.0 561.6l17.0 17.0m0 -17.0l-17.0 17.0M532.9 561.8l17.0 17.0m0 -17.0l-17.0 17.0M534.8 561.7l17.0 17.0m0 -17.0l-17.0 17.0M536.7 561.9l17.0 17.0m0 -17.0l-17.0 17.0M538.6 562.5l17.0 17.0m0 -17.0l-17.0 17.0M540.5 562.4l17.0 17.0m0 -17.0l-17.0 17.0M542.6 562.9l17.0 17.0m0 -17.0l-17.0 17.0M544.4 563.9l17.0 17.0m0 -17.0l-17.0 17.0M546.5 564.3l17.0 17.0m0 -17.0l-17.0 17.0M548.5 564.8l17.0 17.0m0 -17.0l-17.0 17.0M550.5 565.5l17.0 17.0m0 -17.0l-17.0 17.0M552.2 566.6l17.0 17.0m0 -17.0l-17.0 17.0M554.1 567.3l17.0 17.0m0 -17.0l-17.0 17.0M555.7 568.6l17.0 17.0m0 -17.0l-17.0 17.0M557.5 569.5l17.0 17.0m0 -17.0l-17.0 17.0M557.2 566.4l17.0 17.0m0 -17.0l-17.0 17.0M561.0 546.9l17.0 17.0m0 -17.0l-17.0 17.0M565.8 539.8l17.0 17.0m0 -17.0l-17.0 17.0M570.6 532.7l17.0 17.0m0 -17.0l-17.0 17.0M573.7 524.7l17.0 17.0m0 -17.0l-17.0 17.0M578.3 517.5l17.0 17.0m0 -17.0l-17.0 17.0M581.8 510.9l17.0 17.0m0 -17.0l-17.0 17.0M586.0 504.6l17.0 17.0m0 -17.0l-17.0 17.0M589.3 497.8l17.0 17.0m0 -17.0l-17.0 17.0M592.3 490.8l17.0 17.0m0 -17.0l-17.0 17.0M596.8 484.7l17.0 17.0m0 -17.0l-17.0 17.0M601.8 478.9l17.0 17.0m0 -17.0l-17.0 17.0M603.8 471.4l17.0 17.0m0 -17.0l-17.0 17.0M606.4 463.1l17.0 17.0m0 -17.0l-17.0 17.0M612.4 456.4l17.0 17.0m0 -17.0l-17.0 17.0M614.8 448.0l17.0 17.0m0 -17.0l-17.0 17.0M617.6 439.9l17.0 17.0m0 -17.0l-17.0 17.0M621.1 432.0l17.0 17.0m0 -17.0l-17.0 17.0M624.0 423.9l17.0 17.0m0 -17.0l-17.0 17.0M628.9 416.7l17.0 17.0m0 -17.0l-17.0 17.0M632.4 408.4l17.0 17.0m0 -17.0l-17.0 17.0M635.8 400.0l17.0 17.0m0 -17.0l-17.0 17.0M639.7 391.9l17.0 17.0m0 -17.0l-17.0 17.0M643.6 383.7l17.0 17.0m0 -17.0l-17.0 17.0M648.3 376.0l17.0 17.0m0 -17.0l-17.0 17.0M651.4 367.4l17.0 17.0m0 -17.0l-17.0 17.0M655.9 359.7l17.0 17.0m0 -17.0l-17.0 17.0M658.0 350.9l17.0 17.0m0 -17.0l-17.0 17.0M661.7 342.7l17.0 17.0m0 -17.0l-17.0 17.0M665.3 334.6l17.0 17.0m0 -17.0l-17.0 17.0M668.9 326.3l17.0 17.0m0 -17.0l-17.0 17.0M672.5 320.3l17.0 17.0m0 -17.0l-17.0 17.0M676.5 314.4l17.0 17.0m0 -17.0l-17.0 17.0M680.0 308.3l17.0 17.0m0 -17.0l-17.0 17.0M681.9 301.3l17.0 17.0m0 -17.0l-17.0 17.0M686.7 296.0l17.0 17.0m0 -17.0l-17.0 17.0M689.6 289.4l17.0 17.0m0 -17.0l-17.0 17.0M694.1 283.7l17.0 17.0m0 -17.0l-17.0 17.0M696.6 276.9l17.0 17.0m0 -17.0l-17.0 17.0M699.8 270.5l17.0 17.0m0 -17.0l-17.0 17.0M704.4 264.9l17.0 17.0m0 -17.0l-17.0 17.0M707.8 258.8l17.0 17.0m0 -17.0l-17.0 17.0M710.8 254.3l17.0 17.0m0 -17.0l-17.0 17.0M714.5 250.5l17.0 17.0m0 -17.0l-17.0 17.0M718.1 246.6l17.0 17.0m0 -17.0l-17.0 17.0M721.7 242.6l17.0 17.0m0 -17.0l-17.0 17.0M723.8 236.8l17.0 17.0m0 -17.0l-17.0 17.0M727.5 232.0l17.0 17.0m0 -17.0l-17.0 17.0M731.5 227.5l17.0 17.0m0 -17.0l-17.0 17.0M735.0 221.6l17.0 17.0m0 -17.0l-17.0 17.0M737.8 215.3l17.0 17.0m0 -17.0l-17.0 17.0M740.4 208.9l17.0 17.0m0 -17.0l-17.0 17.0M745.6 204.3l17.0 17.0m0 -17.0l-17.0 17.0M748.0 198.1l17.0 17.0m0 -17.0l-17.0 17.0M750.9 192.1l17.0 17.0m0 -17.0l-17.0 17.0M755.7 188.8l17.0 17.0m0 -17.0l-17.0 17.0M758.8 184.3l17.0 17.0m0 -17.0l-17.0 17.0M762.0 180.1l17.0 17.0m0 -17.0l-17.0 17.0M765.2 177.3l17.0 17.0m0 -17.0l-17.0 17.0M768.4 174.5l17.0 17.0m0 -17.0l-17.0 17.0M771.1 170.9l17.0 17.0m0 -17.0l-17.0 17.0M774.8 169.5l17.0 17.0m0 -17.0l-17.0 17.0M778.3 167.7l17.0 17.0m0 -17.0l-17.0 17.0M781.8 165.8l17.0 17.0m0 -17.0l-17.0 17.0M785.0 163.1l17.0 17.0m0 -17.0l-17.0 17.0M787.7 159.6l17.0 17.0m0 -17.0l-17.0 17.0M791.2 157.2l17.0 17.0m0 -17.0l-17.0 17.0M794.7 154.3l17.0 17.0m0 -17.0l-17.0 17.0M798.1 151.4l17.0 17.0m0 -17.0l-17.0 17.0M801.1 148.0l17.0 17.0m0 -17.0l-17.0 17.0M804.0 144.6l17.0 17.0m0 -17.0l-17.0 17.0M807.6 141.9l17.0 17.0m0 -17.0l-17.0 17.0M811.6 139.7l17.0 17.0m0 -17.0l-17.0 17.0M814.8 137.5l17.0 17.0m0 -17.0l-17.0 17.0M818.4 135.8l17.0 17.0m0 -17.0l-17.0 17.0M820.8 132.4l17.0 17.0m0 -17.0l-17.0 17.0M824.7 131.3l17.0 17.0m0 -17.0l-17.0 17.0M828.5 130.0l17.0 17.0m0 -17.0l-17.0 17.0M831.6 126.1l17.0 17.0m0 -17.0l-17.0 17.0M834.9 127.1l17.0 17.0m0 -17.0l-17.0 17.0M838.3 127.0l17.0 17.0m0 -17.0l-17.0 17.0M842.0 129.2l17.0 17.0m0 -17.0l-17.0 17.0M844.8 126.2l17.0 17.0m0 -17.0l-17.0 17.0M847.9 123.5l17.0 17.0m0 -17.0l-17.0 17.0M851.6 121.6l17.0 17.0m0 -17.0l-17.0 17.0M854.8 119.1l17.0 17.0m0 -17.0l-17.0 17.0M858.5 117.4l17.0 17.0m0 -17.0l-17.0 17.0M862.2 115.0l17.0 17.0m0 -17.0l-17.0 17.0M865.4 110.2l17.0 17.0m0 -17.0l-17.0 17.0M868.4 105.3l17.0 17.0m0 -17.0l-17.0 17.0M872.0 100.8l17.0 17.0m0 -17.0l-17.0 17.0M875.3 95.5l17.0 17.0m0 -17.0l-17.0 17.0M878.9 90.3l17.0 17.0m0 -17.0l-17.0 17.0M880.5 83.8l17.0 17.0m0 -17.0l-17.0 17.0M885.0 80.0l17.0 17.0m0 -17.0l-17.0 17.0M888.2 75.2l17.0 17.0m0 -17.0l-17.0 17.0M891.6 70.6l17.0 17.0m0 -17.0l-17.0 17.0M894.7 67.4l17.0 17.0m0 -17.0l-17.0 17.0M898.1 64.5l17.0 17.0m0 -17.0l-17.0 17.0M901.7 61.8l17.0 17.0m0 -17.0l-17.0 17.0M905.6 58.0l17.0 17.0m0 -17.0l-17.0 17.0M909.6 54.3l17.0 17.0m0 -17.0l-17.0 17.0M913.0 50.1l17.0 17.0m0 -17.0l-17.0 17.0M917.5 47.0l17.0 17.0m0 -17.0l-17.0 17.0M601.2 535.5l17.0 17.0m0 -17.0l-17.0 17.0M912.4 93.3l17.0 17.0m0 -17.0l-17.0 17.0M909.3 127.3l17.0 17.0m0 -17.0l-17.0 17.0M905.6 167.3l17.0 17.0m0 -17.0l-17.0 17.0M902.4 206.6l17.0 17.0m0 -17.0l-17.0 17.0M898.7 239.5l17.0 17.0m0 -17.0l-17.0 17.0M895.2 276.4l17.0 17.0m0 -17.0l-17.0 17.0M891.6 308.7l17.0 17.0m0 -17.0l-17.0 17.0M887.9 340.1l17.0 17.0m0 -17.0l-17.0 17.0M884.3 371.9l17.0 17.0m0 -17.0l-17.0 17.0M880.8 400.5l17.0 17.0m0 -17.0l-17.0 17.0M877.6 418.8l17.0 17.0m0 -17.0l-17.0 17.0M873.7 439.5l17.0 17.0m0 -17.0l-17.0 17.0M867.0 446.0l17.0 17.0m0 -17.0l-17.0 17.0M854.7 455.2l17.0 17.0m0 -17.0l-17.0 17.0M872.9 461.0l17.0 17.0m0 -17.0l-17.0 17.0M870.4 462.8l17.0 17.0m0 -17.0l-17.0 17.0M869.3 465.5l17.0 17.0m0 -17.0l-17.0 17.0M867.2 468.1l17.0 17.0m0 -17.0l-17.0 17.0M864.0 468.8l17.0 17.0m0 -17.0l-17.0 17.0M860.5 469.1l17.0 17.0m0 -17.0l-17.0 17.0M858.5 471.9l17.0 17.0m0 -17.0l-17.0 17.0M856.7 475.0l17.0 17.0m0 -17.0l-17.0 17.0M854.0 477.5l17.0 17.0m0 -17.0l-17.0 17.0M850.1 474.6l17.0 17.0m0 -17.0l-17.0 17.0M847.8 476.9l17.0 17.0m0 -17.0l-17.0 17.0M845.4 478.7l17.0 17.0m0 -17.0l-17.0 17.0M842.3 478.4l17.0 17.0m0 -17.0l-17.0 17.0M839.7 479.4l17.0 17.0m0 -17.0l-17.0 17.0M837.0 480.4l17.0 17.0m0 -17.0l-17.0 17.0M834.8 483.2l17.0 17.0m0 -17.0l-17.0 17.0M831.7 482.8l17.0 17.0m0 -17.0l-17.0 17.0M828.9 483.3l17.0 17.0m0 -17.0l-17.0 17.0M826.5 485.0l17.0 17.0m0 -17.0l-17.0 17.0M822.8 483.2l17.0 17.0m0 -17.0l-17.0 17.0M820.8 486.0l17.0 17.0m0 -17.0l-17.0 17.0M817.7 486.0l17.0 17.0m0 -17.0l-17.0 17.0M814.9 486.8l17.0 17.0m0 -17.0l-17.0 17.0M812.1 487.6l17.0 17.0m0 -17.0l-17.0 17.0M809.4 488.6l17.0 17.0m0 -17.0l-17.0 17.0M806.6 489.5l17.0 17.0m0 -17.0l-17.0 17.0M804.6 492.5l17.0 17.0m0 -17.0l-17.0 17.0M800.8 490.5l17.0 17.0m0 -17.0l-17.0 17.0M799.6 494.7l17.0 17.0m0 -17.0l-17.0 17.0M795.5 493.2l17.0 17.0m0 -17.0l-17.0 17.0M793.2 494.8l17.0 17.0m0 -17.0l-17.0 17.0M791.0 496.0l17.0 17.0m0 -17.0l-17.0 17.0M789.3 500.3l17.0 17.0m0 -17.0l-17.0 17.0M786.4 501.1l17.0 17.0m0 -17.0l-17.0 17.0M782.5 499.1l17.0 17.0m0 -17.0l-17.0 17.0M780.1 501.5l17.0 17.0m0 -17.0l-17.0 17.0M777.4 502.9l17.0 17.0m0 -17.0l-17.0 17.0M773.7 501.3l17.0 17.0m0 -17.0l-17.0 17.0M772.3 506.2l17.0 17.0m0 -17.0l-17.0 17.0M768.5 505.4l17.0 17.0m0 -17.0l-17.0 17.0M765.8 507.0l17.0 17.0m0 -17.0l-17.0 17.0M763.4 509.5l17.0 17.0m0 -17.0l-17.0 17.0M760.1 509.7l17.0 17.0m0 -17.0l-17.0 17.0M756.8 509.6l17.0 17.0m0 -17.0l-17.0 17.0M753.8 509.4l17.0 17.0m0 -17.0l-17.0 17.0M751.7 513.7l17.0 17.0m0 -17.0l-17.0 17.0M748.5 512.1l17.0 17.0m0 -17.0l-17.0 17.0M746.0 514.5l17.0 17.0m0 -17.0l-17.0 17.0M742.6 512.0l17.0 17.0m0 -17.0l-17.0 17.0M740.4 515.6l17.0 17.0m0 -17.0l-17.0 17.0M737.6 516.4l17.0 17.0m0 -17.0l-17.0 17.0M734.4 515.4l17.0 17.0m0 -17.0l-17.0 17.0M730.9 514.7l17.0 17.0m0 -17.0l-17.0 17.0M729.8 517.8l17.0 17.0m0 -17.0l-17.0 17.0M728.1 520.0l17.0 17.0m0 -17.0l-17.0 17.0M724.1 519.3l17.0 17.0m0 -17.0l-17.0 17.0M721.9 520.8l17.0 17.0m0 -17.0l-17.0 17.0M720.0 522.0l17.0 17.0m0 -17.0l-17.0 17.0M718.0 525.2l17.0 17.0m0 -17.0l-17.0 17.0M715.0 525.5l17.0 17.0m0 -17.0l-17.0 17.0M712.4 527.1l17.0 17.0m0 -17.0l-17.0 17.0M709.3 526.6l17.0 17.0m0 -17.0l-17.0 17.0M706.8 528.4l17.0 17.0m0 -17.0l-17.0 17.0M704.0 529.3l17.0 17.0m0 -17.0l-17.0 17.0M700.6 528.2l17.0 17.0m0 -17.0l-17.0 17.0M697.6 528.3l17.0 17.0m0 -17.0l-17.0 17.0M695.3 530.8l17.0 17.0m0 -17.0l-17.0 17.0M693.1 533.6l17.0 17.0m0 -17.0l-17.0 17.0M689.6 532.2l17.0 17.0m0 -17.0l-17.0 17.0M687.1 533.9l17.0 17.0m0 -17.0l-17.0 17.0M683.1 532.7l17.0 17.0m0 -17.0l-17.0 17.0M681.1 535.3l17.0 17.0m0 -17.0l-17.0 17.0M678.2 536.5l17.0 17.0m0 -17.0l-17.0 17.0M675.9 538.7l17.0 17.0m0 -17.0l-17.0 17.0M673.7 540.9l17.0 17.0m0 -17.0l-17.0 17.0M670.3 541.2l17.0 17.0m0 -17.0l-17.0 17.0M667.9 543.1l17.0 17.0m0 -17.0l-17.0 17.0M666.5 546.8l17.0 17.0m0 -17.0l-17.0 17.0M664.3 548.9l17.0 17.0m0 -17.0l-17.0 17.0M661.2 549.8l17.0 17.0m0 -17.0l-17.0 17.0M658.2 550.9l17.0 17.0m0 -17.0l-17.0 17.0M656.6 554.1l17.0 17.0m0 -17.0l-17.0 17.0M653.4 554.8l17.0 17.0m0 -17.0l-17.0 17.0M650.3 555.6l17.0 17.0m0 -17.0l-17.0 17.0M648.4 559.4l17.0 17.0m0 -17.0l-17.0 17.0M644.7 556.9l17.0 17.0m0 -17.0l-17.0 17.0M642.1 558.4l17.0 17.0m0 -17.0l-17.0 17.0M639.7 560.6l17.0 17.0m0 -17.0l-17.0 17.0M636.9 561.4l17.0 17.0m0 -17.0l-17.0 17.0M634.1 562.0l17.0 17.0m0 -17.0l-17.0 17.0M631.3 562.9l17.0 17.0m0 -17.0l-17.0 17.0M628.0 561.8l17.0 17.0m0 -17.0l-17.0 17.0M625.5 563.6l17.0 17.0m0 -17.0l-17.0 17.0M622.7 564.3l17.0 17.0m0 -17.0l-17.0 17.0M620.3 566.7l17.0 17.0m0 -17.0l-17.0 17.0M616.6 564.2l17.0 17.0m0 -17.0l-17.0 17.0M614.5 567.5l17.0 17.0m0 -17.0l-17.0 17.0M611.9 568.2l17.0 17.0m0 -17.0l-17.0 17.0M609.8 570.5l17.0 17.0m0 -17.0l-17.0 17.0M605.4 568.3l17.0 17.0m0 -17.0l-17.0 17.0M603.9 571.6l17.0 17.0m0 -17.0l-17.0 17.0M600.7 571.2l17.0 17.0m0 -17.0l-17.0 17.0M597.4 572.3l17.0 17.0m0 -17.0l-17.0 17.0M594.1 573.4l17.0 17.0m0 -17.0l-17.0 17.0M591.0 575.2l17.0 17.0m0 -17.0l-17.0 17.0M588.0 575.7l17.0 17.0m0 -17.0l-17.0 17.0M585.2 576.7l17.0 17.0m0 -17.0l-17.0 17.0M582.6 578.2l17.0 17.0m0 -17.0l-17.0 17.0M580.7 582.0l17.0 17.0m0 -17.0l-17.0 17.0M577.3 581.4l17.0 17.0m0 -17.0l-17.0 17.0M574.4 582.2l17.0 17.0m0 -17.0l-17.0 17.0M571.0 581.4l17.0 17.0m0 -17.0l-17.0 17.0M568.4 583.1l17.0 17.0m0 -17.0l-17.0 17.0M565.7 584.4l17.0 17.0m0 -17.0l-17.0 17.0M562.8 585.1l17.0 17.0m0 -17.0l-17.0 17.0M560.5 587.7l17.0 17.0m0 -17.0l-17.0 17.0M556.9 586.1l17.0 17.0m0 -17.0l-17.0 17.0M554.5 588.3l17.0 17.0m0 -17.0l-17.0 17.0M552.0 590.2l17.0 17.0m0 -17.0l-17.0 17.0M549.0 590.9l17.0 17.0m0 -17.0l-17.0 17.0M545.5 589.7l17.0 17.0m0 -17.0l-17.0 17.0M543.3 592.4l17.0 17.0m0 -17.0l-17.0 17.0M540.6 595.0l17.0 17.0m0 -17.0l-17.0 17.0M537.6 595.3l17.0 17.0m0 -17.0l-17.0 17.0M534.4 593.2l17.0 17.0m0 -17.0l-17.0 17.0M531.4 594.0l17.0 17.0m0 -17.0l-17.0 17.0M528.2 592.8l17.0 17.0m0 -17.0l-17.0 17.0M525.5 596.2l17.0 17.0m0 -17.0l-17.0 17.0M522.4 595.5l17.0 17.0m0 -17.0l-17.0 17.0M519.2 594.4l17.0 17.0m0 -17.0l-17.0 17.0M516.5 597.7l17.0 17.0m0 -17.0l-17.0 17.0M513.4 597.7l17.0 17.0m0 -17.0l-17.0 17.0M510.2 596.0l17.0 17.0m0 -17.0l-17.0 17.0M507.3 597.5l17.0 17.0m0 -17.0l-17.0 17.0M504.2 598.4l17.0 17.0m0 -17.0l-17.0 17.0M501.0 597.9l17.0 17.0m0 -17.0l-17.0 17.0M497.7 596.5l17.0 17.0m0 -17.0l-17.0 17.0M494.6 597.2l17.0 17.0m0 -17.0l-17.0 17.0M491.9 599.3l17.0 17.0m0 -17.0l-17.0 17.0M488.5 600.0l17.0 17.0m0 -17.0l-17.0 17.0M484.5 597.3l17.0 17.0m0 -17.0l-17.0 17.0M481.5 599.5l17.0 17.0m0 -17.0l-17.0 17.0M706.0 500.6l17.0 17.0m0 -17.0l-17.0 17.0M683.3 513.3l17.0 17.0m0 -17.0l-17.0 17.0M678.8 517.0l17.0 17.0m0 -17.0l-17.0 17.0M702.4 517.0l17.0 17.0m0 -17.0l-17.0 17.0M482.5 601.1l17.0 17.0m0 -17.0l-17.0 17.0M478.1 592.3l17.0 17.0m0 -17.0l-17.0 17.0M471.3 587.4l17.0 17.0m0 -17.0l-17.0 17.0M464.4 573.7l17.0 17.0m0 -17.0l-17.0 17.0M442.8 569.8l17.0 17.0m0 -17.0l-17.0 17.0M464.6 574.4l17.0 17.0m0 -17.0l-17.0 17.0M461.0 572.8l17.0 17.0m0 -17.0l-17.0 17.0M458.2 570.1l17.0 17.0m0 -17.0l-17.0 17.0M454.4 569.0l17.0 17.0m0 -17.0l-17.0 17.0M451.5 566.7l17.0 17.0m0 -17.0l-17.0 17.0M447.6 565.2l17.0 17.0m0 -17.0l-17.0 17.0M443.6 564.5l17.0 17.0m0 -17.0l-17.0 17.0M439.4 564.1l17.0 17.0m0 -17.0l-17.0 17.0M435.6 562.4l17.0 17.0m0 -17.0l-17.0 17.0M431.5 561.9l17.0 17.0m0 -17.0l-17.0 17.0M427.3 561.5l17.0 17.0m0 -17.0l-17.0 17.0M423.1 561.3l17.0 17.0m0 -17.0l-17.0 17.0M418.9 561.8l17.0 17.0m0 -17.0l-17.0 17.0M414.7 561.4l17.0 17.0m0 -17.0l-17.0 17.0M410.5 561.5l17.0 17.0m0 -17.0l-17.0 17.0M780.6 174.3l17.0 17.0m0 -17.0l-17.0 17.0M783.1 170.7l17.0 17.0m0 -17.0l-17.0 17.0M787.7 169.5l17.0 17.0m0 -17.0l-17.0 17.0M791.9 167.9l17.0 17.0m0 -17.0l-17.0 17.0M793.7 163.4l17.0 17.0m0 -17.0l-17.0 17.0M799.2 163.5l17.0 17.0m0 -17.0l-17.0 17.0M799.6 156.1l17.0 17.0m0 -17.0l-17.0 17.0M804.8 157.6l17.0 17.0m0 -17.0l-17.0 17.0M808.6 156.5l17.0 17.0m0 -17.0l-17.0 17.0M811.5 154.0l17.0 17.0m0 -17.0l-17.0 17.0M813.8 150.4l17.0 17.0m0 -17.0l-17.0 17.0M817.5 149.1l17.0 17.0m0 -17.0l-17.0 17.0M821.5 148.4l17.0 17.0m0 -17.0l-17.0 17.0M824.1 145.3l17.0 17.0m0 -17.0l-17.0 17.0M828.7 147.1l17.0 17.0m0 -17.0l-17.0 17.0M831.7 144.9l17.0 17.0m0 -17.0l-17.0 17.0M834.3 141.8l17.0 17.0m0 -17.0l-17.0 17.0M839.0 143.9l17.0 17.0m0 -17.0l-17.0 17.0M841.8 141.0l17.0 17.0m0 -17.0l-17.0 17.0M844.8 137.4l17.0 17.0m0 -17.0l-17.0 17.0M849.1 135.7l17.0 17.0m0 -17.0l-17.0 17.0M852.4 132.5l17.0 17.0m0 -17.0l-17.0 17.0M857.8 131.6l17.0 17.0m0 -17.0l-17.0 17.0M860.2 127.1l17.0 17.0m0 -17.0l-17.0 17.0M863.0 123.0l17.0 17.0m0 -17.0l-17.0 17.0M865.6 118.7l17.0 17.0m0 -17.0l-17.0 17.0M869.5 115.5l17.0 17.0m0 -17.0l-17.0 17.0M916.0 49.0l17.0 17.0m0 -17.0l-17.0 17.0M914.5 51.5l17.0 17.0m0 -17.0l-17.0 17.0M917.0 48.0l17.0 17.0m0 -17.0l-17.0 17.0" stroke="#00f" stroke-width="2.6" fill="none"/>
<path d="M189.9 68.8l17.0 17.0m0 -17.0l-17.0 17.0" stroke="#00f" stroke-width="2.2" fill="none"/>
<text x="199.2" y="140.2" text-anchor="middle">o</text>
</svg>
</body></html>
